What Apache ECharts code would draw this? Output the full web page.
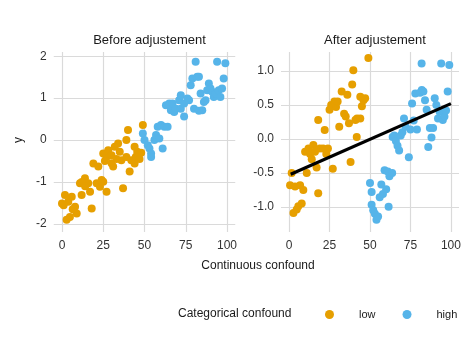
<!DOCTYPE html>
<html><head><meta charset="utf-8">
<script src="https://cdn.jsdelivr.net/npm/echarts@6/dist/echarts.min.js"></script>
<style>html,body{margin:0;padding:0;background:#fff}#c{width:474px;height:352px}</style>
</head><body><div id="c"></div>
<script>
var categories = ['low', 'high'];
var xTicks = [0, 25, 50, 75, 100];
var yTicksBefore = [-2, -1, 0, 1, 2];
var yTicksAfter = [-1.0, -0.5, 0.0, 0.5, 1.0];

var beforeLow = [[0,-1.51],[1.8,-1.31],[3.8,-1.47],[2.8,-1.9],[4.8,-1.83],[5.9,-1.35],[7.9,-1.59],[8.9,-1.75],[10.9,-1.03],[11.9,-1.31],[13.9,-0.91],[15.9,-1.03],[17,-1.23],[18,-1.63],[19,-0.56],[21,-1.03],[22,-0.63],[23,-1.11],[24,-0.95],[25,-0.99],[27,-1.23],[25,-0.32],[27,-0.40],[28,-0.24],[30,-0.36],[31,-0.63],[32,-0.16],[34,-0.08],[35,-0.28],[36,-0.48],[37,-1.15],[39,0.0],[40,0.24],[39,-0.4],[41,-0.75],[42,-0.48],[44,-0.16],[44.7,-0.4],[44,-0.56],[45.6,-0.28],[46,-0.32],[49,0.36],[1,-1.55],[6.5,-1.65],[12,-1.0],[14,-1.1],[26,-0.5],[30,-0.55],[33,-0.45],[47,-0.45],[48,-0.3]];
var beforeHigh = [[49,0.16],[50,0],[52,-0.12],[53,-0.2],[54,-0.32],[54,-0.4],[56,0],[57,0.12],[58,0.32],[60,0.36],[59,0.04],[61,-0.2],[62,0.32],[64,0.32],[63,0.83],[65,0.87],[66,0.71],[67,0.87],[68,0.67],[69,0.75],[71,0.95],[72,1.07],[72,0.75],[74,0.87],[74,0.56],[76,0.99],[77,0.95],[78,1.31],[79,1.47],[80,0.75],[81,1.87],[82,1.51],[83,1.51],[84,1.11],[85,0.71],[86,0.91],[87,0.95],[88,1.19],[89,1.35],[90,1.23],[91,1.15],[92,1.03],[93,1.11],[94,1.87],[95,1.19],[96,1.03],[97,1.23],[98,1.47],[99,1.83],[83,0.7]];
var afterLow = [[1.6,-0.50],[0.6,-0.68],[3.7,-0.70],[2.7,-1.09],[4.7,-1.04],[6.8,-0.68],[5.7,-0.99],[7.8,-0.95],[8.8,-0.75],[10.9,-0.50],[9.9,-0.19],[12,-0.14],[13,-0.22],[14,-0.30],[15,-0.09],[16,-0.19],[17,-0.42],[18,-0.80],[18,0.28],[19,-0.14],[21,-0.14],[22,0.13],[23,-0.22],[24,-0.14],[25,0.43],[26,0.50],[27,-0.44],[28,0.55],[29,0.47],[30,0.55],[31,0.18],[32.5,0.70],[34,0.37],[35,0.33],[36,0.65],[37,0.23],[38,-0.34],[39,0.80],[39.7,1.01],[41.8,0.03],[41,0.28],[42,0.30],[44,0.30],[44,0.62],[45,0.48],[46,0.57],[47,0.60],[49,1.19]];
var afterHigh = [[50,-0.65],[51,-0.78],[51,-0.97],[52,-1.05],[53,-1.10],[54,-1.19],[55,-1.14],[56,-0.86],[57,-0.67],[58,-0.81],[59,-0.46],[60,-0.74],[61,-0.48],[61.5,-1.0],[62,-0.55],[63.7,-0.5],[64,0.03],[65,0.05],[66,-0.03],[67,-0.1],[68,-0.17],[69,0.05],[70,0.1],[71,0.30],[72,0.18],[74,-0.27],[75,0.14],[76,0.52],[77,0.27],[78,0.67],[79,0.14],[81.9,1.11],[80.9,0.68],[82,0.72],[83,0.70],[84,0.57],[85,0.43],[86,-0.12],[87,0.16],[88,0.02],[89,0.16],[90,0.60],[91,0.50],[92,0.30],[93,0.40],[94,1.11],[95,0.28],[96,0.33],[97,0.42],[98,0.70],[99,1.09]];
var fitLine = [[1,-0.52],[100,0.52]];

var colors = {low: '#E69F00', high: '#56B4E9'};
var FONT = 'Liberation Sans, Arial, sans-serif';
var grid = {color: '#DADADA', width: 1.2};

function xAxis(idx) {
  return {
    type: 'value', gridIndex: idx, min: -5, max: 105,
    axisLine: {show: false}, axisTick: {show: false, customValues: xTicks},
    axisLabel: {customValues: xTicks, color: '#333', fontSize: 12, fontFamily: FONT, margin: 8},
    splitLine: {show: true, lineStyle: grid}
  };
}
function yAxis(idx, mn, mx, ticks, fmt) {
  return {
    type: 'value', gridIndex: idx, min: mn, max: mx,
    axisLine: {show: false}, axisTick: {show: false, customValues: ticks},
    axisLabel: {customValues: ticks, color: '#333', fontSize: 12, fontFamily: FONT, margin: 7, formatter: fmt},
    splitLine: {show: true, lineStyle: grid}
  };
}
function sc(name, data, xi) {
  return {name: name, type: 'scatter', xAxisIndex: xi, yAxisIndex: xi, data: data, symbolSize: 8,
    itemStyle: {color: colors[name], opacity: 1}, emphasis: {disabled: true}};
}

var chart = echarts.init(document.getElementById('c'), null, {renderer: 'canvas'});
chart.setOption({
  animation: false,
  backgroundColor: '#fff',
  title: [
    {text: 'Before adjustement', left: 144.5, top: 29, textAlign: 'center', textStyle: {fontSize: 13, fontWeight: 'normal', color: '#1a1a1a', fontFamily: FONT}},
    {text: 'After adjustement', left: 370, top: 29, textAlign: 'center', textStyle: {fontSize: 13, fontWeight: 'normal', color: '#1a1a1a', fontFamily: FONT}}
  ],
  grid: [
    {left: 53.75, top: 52, width: 181.5, height: 180, containLabel: false},
    {left: 281, top: 52, width: 178, height: 180, containLabel: false}
  ],
  xAxis: [xAxis(0), xAxis(1)],
  yAxis: [
    yAxis(0, -2.19, 2.1, yTicksBefore, function (v) { return String(Math.round(v)); }),
    yAxis(1, -1.37, 1.28, yTicksAfter, function (v) { return v.toFixed(1); })
  ],
  legend: {
    data: categories, left: 325, top: 309, padding: 0, icon: 'circle', itemWidth: 9, itemHeight: 9, itemGap: 27,
    textStyle: {fontSize: 11, color: '#1a1a1a', fontFamily: FONT, padding: [0, 0, 0, 20]},
    selectedMode: false
  },
  graphic: [
    {type: 'text', left: 178, top: 308, style: {text: 'Categorical confound', fontSize: 12, fill: '#1a1a1a', fontFamily: FONT}},
    {type: 'text', x: 258, y: 266, style: {text: 'Continuous confound', fontSize: 12, fill: '#1a1a1a', fontFamily: FONT, align: 'center', verticalAlign: 'middle'}},
    {type: 'text', x: 19, y: 140, rotation: Math.PI / 2, style: {text: 'y', fontSize: 12, fill: '#1a1a1a', fontFamily: FONT, align: 'center', verticalAlign: 'middle'}}
  ],
  series: [
    sc('low', beforeLow, 0),
    sc('high', beforeHigh, 0),
    sc('low', afterLow, 1),
    sc('high', afterHigh, 1),
    {type: 'line', xAxisIndex: 1, yAxisIndex: 1, data: fitLine, symbol: 'none', lineStyle: {color: '#000', width: 3.2}, z: 5, emphasis: {disabled: true}}
  ]
});
</script>
</body></html>
